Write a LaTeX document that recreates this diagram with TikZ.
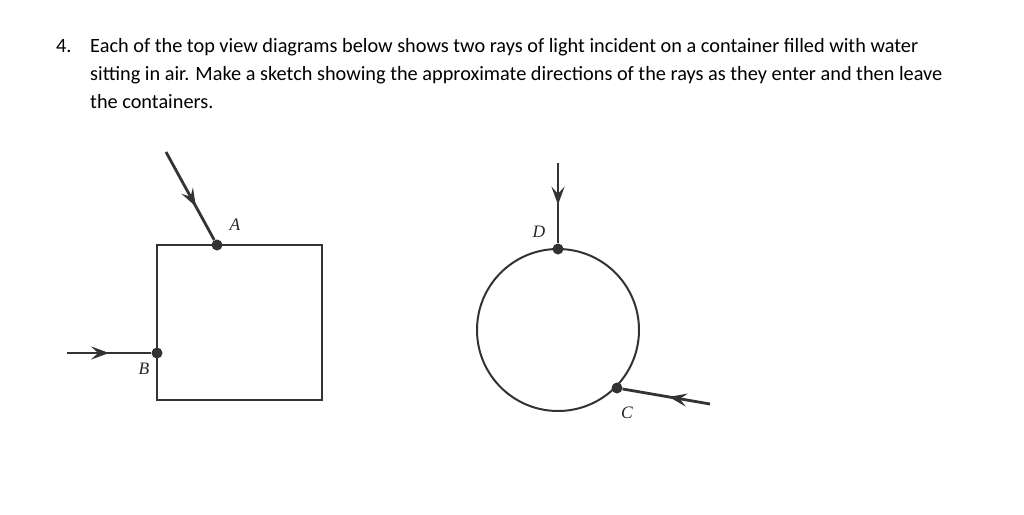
\documentclass[tikz,border=0pt]{standalone}
\usepackage{fontspec}
\setmainfont{Carlito}
\newfontfamily\labelfont{Liberation Serif}
\usetikzlibrary{arrows.meta,decorations.markings}

\definecolor{linegray}{HTML}{333333}

\tikzset{
  ray/.style={draw=linegray, line width=2.8pt, postaction={decorate},
    decoration={markings, mark=at position #1 with {\arrow{Stealth[length=18pt,width=13pt,inset=7pt]}}}},
  dot/.style={circle, fill=linegray, inner sep=0pt, minimum size=11pt},
  pointlabel/.style={font=\labelfont\itshape\fontsize{17.5}{17.5}\selectfont, text=black!85},
  qtext/.style={anchor=base west, inner sep=0pt, font=\fontsize{20.3}{28}\selectfont}
}

\begin{document}
\begin{tikzpicture}[x=1pt,y=-1pt]
	\useasboundingbox (0,0) rectangle (1024,514);
	% question text
	\node[qtext] (num) at (56,52) {4.};
	\node[qtext] (line1) at (90,52) {Each of the top view diagrams below shows two rays of light incident on a container filled with water};
	\node[qtext] (line2) at (90,80) {sitting in air. Make a sketch showing the approximate directions of the rays as they enter and then leave};
	\node[qtext] (line3) at (90,108) {the containers.};
	% square container
	\draw[linegray, line width=2.6pt] (157,245) rectangle (322,400);
	\node[dot] (A) at (217,245) {};
	\node[dot] (B) at (157,353) {};
	\node[pointlabel] (labA) at (235,225) {A};
	\node[pointlabel] (labB) at (144,369) {B};
	\coordinate (a0) at (166,152);
	\coordinate (b0) at (67,353);
	\draw[ray=0.62] (a0) -- (A);
	\draw[ray=0.5] (b0) -- (B);
	% round container
	\draw[linegray, line width=2pt] (558,330) circle (81);
	\node[dot] (D) at (558,249) {};
	\node[dot] (C) at (617,388) {};
	\node[pointlabel] (labD) at (539,232) {D};
	\node[pointlabel] (labC) at (627,413) {C};
	\coordinate (d0) at (558,163);
	\coordinate (c0) at (710,404);
	\draw[ray=0.52] (d0) -- (D);
	\draw[ray=0.47] (c0) -- (C);
\end{tikzpicture}
\end{document}
